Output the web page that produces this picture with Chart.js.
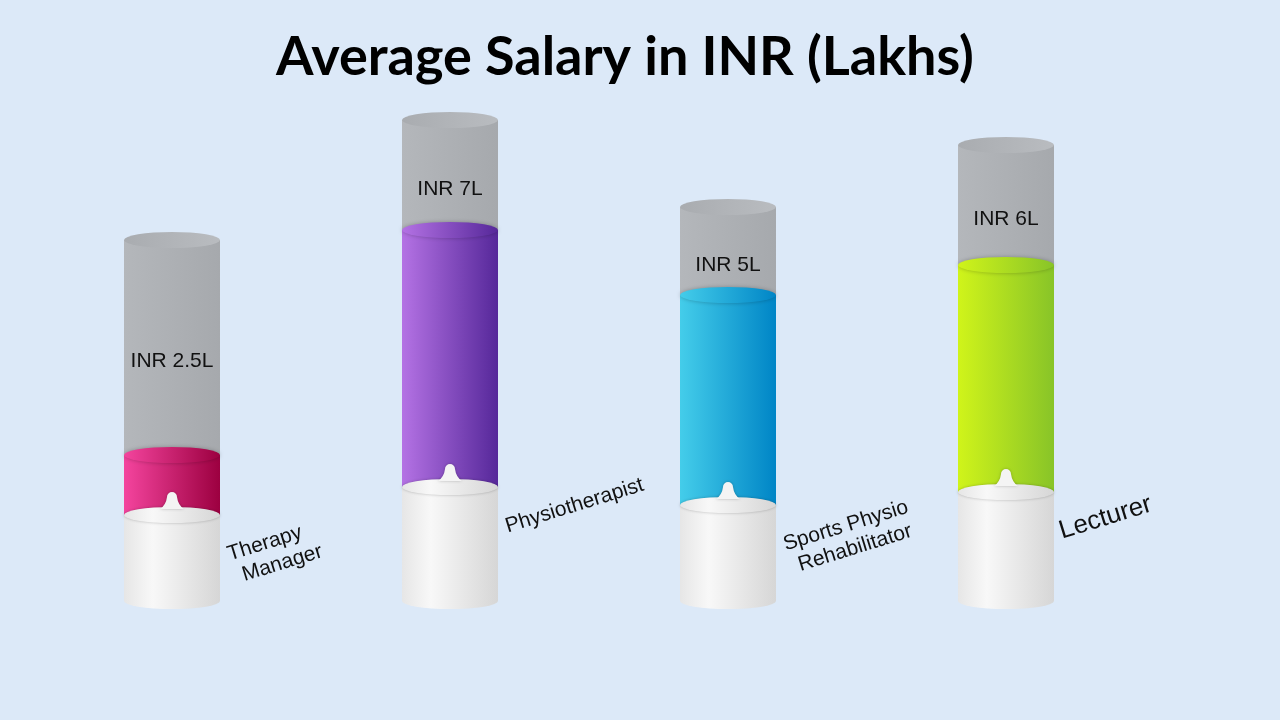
<!DOCTYPE html>
<html>
<head>
<meta charset="utf-8">
<script src="https://cdn.jsdelivr.net/npm/chart.js@4.4.1/dist/chart.umd.min.js"></script>
<style>
  html, body { margin: 0; padding: 0; background: #dce9f8; }
  #wrap { width: 1280px; height: 720px; }
</style>
</head>
<body>
<div id="wrap"><canvas id="salaryChart" width="1280" height="720"></canvas></div>
<script>
const titleText = 'Average Salary in INR (Lakhs)';
const categories = [['Therapy', 'Manager'], ['Physiotherapist'], ['Sports Physio', 'Rehabilitator'], ['Lecturer']];
const valueLabels = ['INR 2.5L', 'INR 7L', 'INR 5L', 'INR 6L'];
const baseHeights = [92, 120, 102, 115];
const fillHeights = [60, 257, 210, 227];
const emptyHeights = [215, 110, 88, 120];
const fillColors = [['#f4449e', '#9c0040'], ['#b472e4', '#56289a'], ['#44cdea', '#0085c6'], ['#d0f41a', '#88c428']];

function hGrad(ctx, x0, x1, c0, c1) {
    const g = ctx.createLinearGradient(x0, 0, x1, 0);
    g.addColorStop(0, c0);
    g.addColorStop(1, c1);
    return g;
}

function ellipse(ctx, cx, cy, rx, ry, fill) {
    ctx.beginPath();
    ctx.ellipse(cx, cy, rx, ry, 0, 0, Math.PI * 2);
    ctx.fillStyle = fill;
    ctx.fill();
}

const cylinderPlugin = {
    id: 'cylinders',
    afterDatasetsDraw(chart) {
        const ctx = chart.ctx;
        const base = chart.getDatasetMeta(0).data;
        const fill = chart.getDatasetMeta(1).data;
        const empty = chart.getDatasetMeta(2).data;
        const ry = 8;
        // title
        ctx.save();
        ctx.fillStyle = '#000';
        ctx.font = 'bold 54px Lato, sans-serif';
        ctx.textAlign = 'center';
        ctx.textBaseline = 'middle';
        ctx.fillText(titleText, 625, 58);
        ctx.restore();
        base.forEach((b, i) => {
            const f = fill[i], e = empty[i];
            const x0 = b.x - b.width / 2, x1 = b.x + b.width / 2, rx = b.width / 2;
            const bottom = b.base - 6;
            ctx.save();
            // gray (empty) body
            ctx.fillStyle = hGrad(ctx, x0, x1, '#b4b7bb', '#a6a9ad');
            ctx.fillRect(x0, e.y, b.width, e.base - e.y);
            ellipse(ctx, b.x, e.y, rx, ry, hGrad(ctx, x0, x1, '#a9acb0', '#b9bcc0'));
            // coloured fill
            ctx.fillStyle = hGrad(ctx, x0, x1, fillColors[i][0], fillColors[i][1]);
            ctx.fillRect(x0, f.y, b.width, f.base - f.y);
            ctx.shadowColor = 'rgba(0,0,0,0.25)';
            ctx.shadowBlur = 4;
            ellipse(ctx, b.x, f.y, rx, ry, hGrad(ctx, x0, x1, fillColors[i][0], fillColors[i][1]));
            ctx.shadowBlur = 0;
            // white base
            const wg = hGrad(ctx, x0, x1, '#e6e6e6', '#d6d6d6');
            wg.addColorStop(0.3, '#f8f8f8');
            ellipse(ctx, b.x, bottom, rx, ry, wg);
            ctx.fillStyle = wg;
            ctx.fillRect(x0, b.y, b.width, bottom - b.y);
            ctx.shadowColor = 'rgba(0,0,0,0.25)';
            ctx.shadowBlur = 3;
            ellipse(ctx, b.x, b.y, rx, ry, wg);
            // little notch
            ctx.beginPath();
            ctx.moveTo(b.x - 12, b.y - ry + 2);
            ctx.quadraticCurveTo(b.x - 6, b.y - ry - 2, b.x - 5, b.y - ry - 10);
            ctx.arc(b.x, b.y - ry - 10, 5, Math.PI, 0);
            ctx.quadraticCurveTo(b.x + 6, b.y - ry - 2, b.x + 12, b.y - ry + 2);
            ctx.closePath();
            ctx.fillStyle = '#f4f4f4';
            ctx.fill();
            ctx.shadowBlur = 0;
            // value label
            ctx.fillStyle = '#111';
            ctx.font = '21px "Liberation Sans", sans-serif';
            ctx.textAlign = 'center';
            ctx.textBaseline = 'middle';
            ctx.fillText(valueLabels[i], b.x, (e.y + e.base) / 2 + 14);
            // category label
            const lines = categories[i];
            const big = lines[0] === 'Lecturer';
            ctx.font = (big ? '26px' : '21px') + ' "Liberation Sans", sans-serif';
            ctx.translate(x1 + (big ? 6 : 8), b.y + (lines.length > 1 ? 40 : 40));
            ctx.rotate(-0.3);
            ctx.textAlign = 'left';
            lines.forEach((t, k) => ctx.fillText(t, lines.length > 1 ? k * 8 : 0, k * 24));
            ctx.restore();
        });
    }
};

new Chart(document.getElementById('salaryChart'), {
    type: 'bar',
    data: {
        labels: categories.map(c => c.join(' ')),
        datasets: [
            { data: baseHeights, backgroundColor: 'rgba(0,0,0,0)' },
            { data: fillHeights, backgroundColor: 'rgba(0,0,0,0)' },
            { data: emptyHeights, backgroundColor: 'rgba(0,0,0,0)' }
        ]
    },
    options: {
        responsive: false,
        animation: false,
        barThickness: 96,
        layout: { padding: { left: 33, right: 135, top: 107, bottom: 113 } },
        plugins: {
            legend: { display: false },
            tooltip: { enabled: false },
            title: { display: false }
        },
        scales: {
            x: { stacked: true, display: false },
            y: { stacked: true, display: false, min: 0, max: 500 }
        }
    },
    plugins: [cylinderPlugin]
});
</script>
</body>
</html>
